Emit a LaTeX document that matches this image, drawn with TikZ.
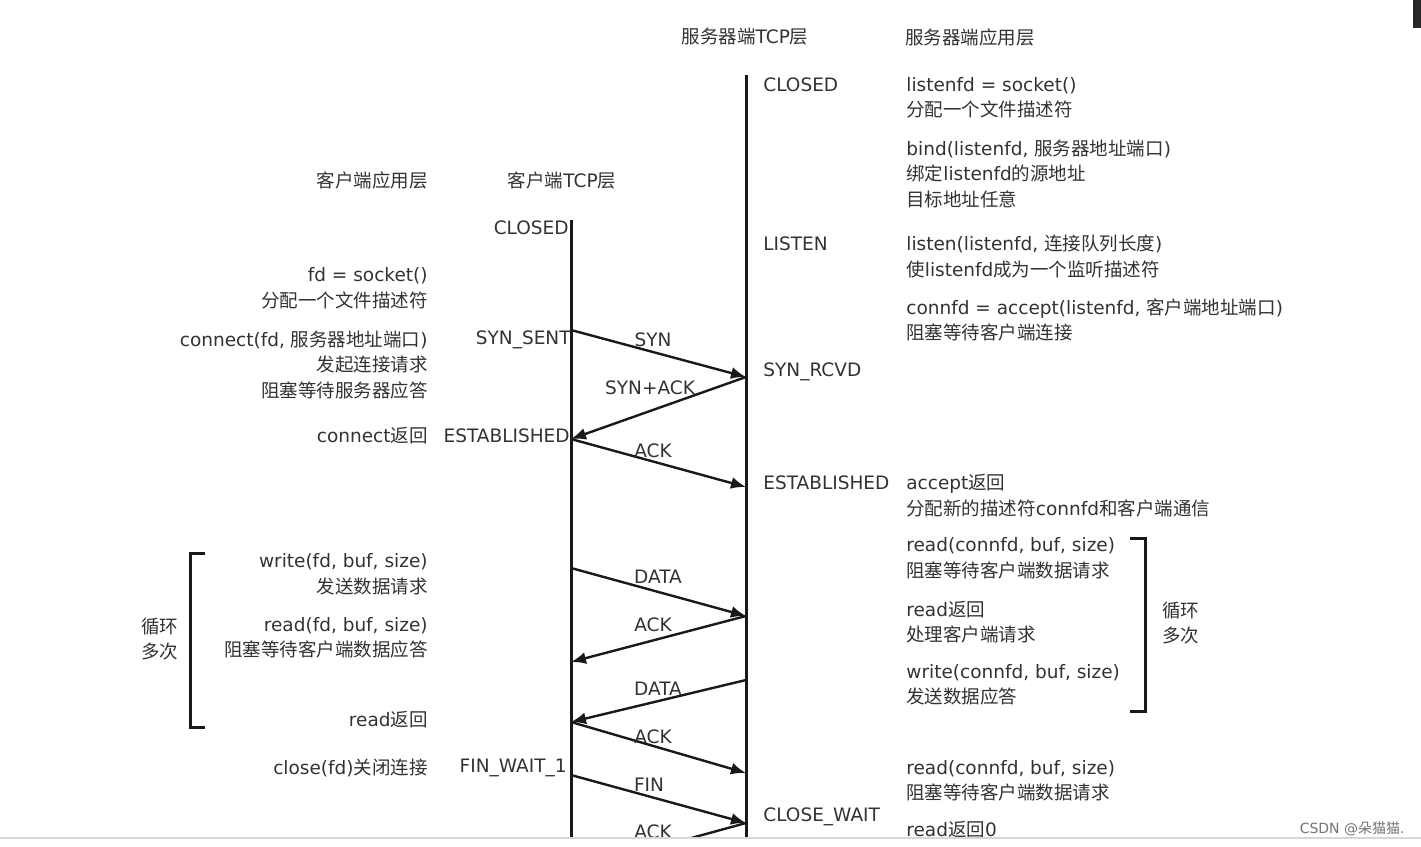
\documentclass[tikz,border=0pt]{standalone}
\usepackage{fontspec}
\setmainfont{DejaVu Sans}
\newfontfamily\cjk{Noto Sans CJK SC}
\newcommand{\zh}[1]{{\cjk #1}}
\usetikzlibrary{arrows.meta, positioning}
\definecolor{inkgray}{RGB}{50,50,50}
\definecolor{linegray}{RGB}{25,25,25}
\definecolor{barline}{RGB}{215,215,215}

\begin{document}
\begin{tikzpicture}[
        x=0.5pt, y=-0.5pt,
        font=\fontsize{9.25}{12.75}\selectfont,
        every node/.style={text=inkgray, inner sep=0pt},
        lifeline/.style={draw=linegray, line width=1.5pt},
        msg/.style={draw=linegray, line width=1.2pt, -{Latex[length=7.5pt, width=6pt]}},
        srvstate/.style={anchor=west},
        clistate/.style={anchor=east},
        srvapp/.style={anchor=west, align=left},
        cliapp/.style={anchor=east, align=right},
        msglabel/.style={anchor=center},
        loopbrace/.style={draw=linegray, line width=1.5pt}
    ]
        \useasboundingbox (0,0) rectangle (1421,847);
        \fill[black!85] (1413,0) rectangle (1421,28);

        \begin{scope}
        \clip (0,0) rectangle (1421,838);

        % headers
        \node (srvtcp) at (745,37) {\zh{服务器端}TCP\zh{层}};
        \node[anchor=west] (srvhead) at (905,37) {\zh{服务器端应用层}};
        \node[anchor=east] (clihead) at (428,180) {\zh{客户端应用层}};
        \node (clitcp) at (562,180) {\zh{客户端}TCP\zh{层}};

        % lifelines
        \coordinate (stop) at (746,75);
        \coordinate (sbot) at (746,847);
        \coordinate (ctop) at (571,220);
        \coordinate (cbot) at (571,847);
        \draw[lifeline] (stop) -- (sbot);
        \draw[lifeline] (ctop) -- (cbot);

        % server TCP states
        \node[srvstate] (sclosed) at (763,85) {CLOSED};
        \node[srvstate] (slisten) at (763,244) {LISTEN};
        \node[srvstate] (srcvd) at (763,372) {SYN\_RCVD};
        \node[srvstate] (sest) at (763,483) {ESTABLISHED};
        \node[srvstate] (swait) at (763,817) {CLOSE\_WAIT};

        % client TCP states
        \node[clistate] (cclosed) at (569,228) {CLOSED};
        \node[clistate] (csent) at (571,340) {SYN\_SENT};
        \node[clistate] (cest) at (570,436) {ESTABLISHED};
        \node[clistate] (cfin) at (567,768) {FIN\_WAIT\_1};

        % server application
        \node[srvapp] (ssock) at (906,97.5) {listenfd = socket()\\\zh{分配一个文件描述符}};
        \node[srvapp] (sbind) at (906,173.5) {bind(listenfd, \zh{服务器地址端口})\\\zh{绑定}listenfd\zh{的源地址}\\\zh{目标地址任意}};
        \node[srvapp] (slsn) at (906,256.5) {listen(listenfd, \zh{连接队列长度})\\\zh{使}listenfd\zh{成为一个监听描述符}};
        \node[srvapp] (sacc) at (906,320) {connfd = accept(listenfd, \zh{客户端地址端口})\\\zh{阻塞等待客户端连接}};
        \node[srvapp] (saccret) at (906,495.5) {accept\zh{返回}\\\zh{分配新的描述符}connfd\zh{和客户端通信}};
        \node[srvapp] (sread) at (906,558.5) {read(connfd, buf, size)\\\zh{阻塞等待客户端数据请求}};
        \node[srvapp] (sreadret) at (906,622) {read\zh{返回}\\\zh{处理客户端请求}};
        \node[srvapp] (swrite) at (906,685) {write(connfd, buf, size)\\\zh{发送数据应答}};
        \node[srvapp] (sread2) at (906,781) {read(connfd, buf, size)\\\zh{阻塞等待客户端数据请求}};
        \node[srvapp] (szero) at (906,830) {read\zh{返回}0};

        % client application
        \node[cliapp] (csock) at (428,288) {fd = socket()\\\zh{分配一个文件描述符}};
        \node[cliapp] (cconn) at (428,365) {connect(fd, \zh{服务器地址端口})\\\zh{发起连接请求}\\\zh{阻塞等待服务器应答}};
        \node[cliapp] (cconnret) at (428,436) {connect\zh{返回}};
        \node[cliapp] (cwrite) at (428,574) {write(fd, buf, size)\\\zh{发送数据请求}};
        \node[cliapp] (cread) at (428,638) {read(fd, buf, size)\\\zh{阻塞等待客户端数据应答}};
        \node[cliapp] (creadret) at (428,720) {read\zh{返回}};
        \node[cliapp] (cclose) at (428,768) {close(fd)\zh{关闭连接}};

        % loops
        \draw[loopbrace] (205,553) -- (190,553) -- (190,727) -- (205,727);
        \node[anchor=west, align=left] (cloop) at (141,639) {\zh{循环}\\\zh{多次}};
        \draw[loopbrace] (1130,538) -- (1145,538) -- (1145,711) -- (1130,711);
        \node[anchor=west, align=left] (sloop) at (1162,623) {\zh{循环}\\\zh{多次}};

        % segment end points
        \coordinate (c0) at (571,330);
        \coordinate (s1) at (746,377);
        \coordinate (c1) at (571,439);
        \coordinate (s2) at (746,487);
        \coordinate (c2) at (571,568);
        \coordinate (s3) at (746,616);
        \coordinate (c3) at (571,662);
        \coordinate (s4) at (746,680);
        \coordinate (c4) at (571,722);
        \coordinate (s5) at (746,773);
        \coordinate (c5) at (571,775);
        \coordinate (s6) at (746,823);
        \coordinate (c6) at (571,871);

        \draw[msg] (c0) -- (s1);
        \draw[msg] (s1) -- (c1);
        \draw[msg] (c1) -- (s2);
        \draw[msg] (c2) -- (s3);
        \draw[msg] (s3) -- (c3);
        \draw[msg] (s4) -- (c4);
        \draw[msg] (c4) -- (s5);
        \draw[msg] (c5) -- (s6);
        \draw[msg] (s6) -- (c6);

        \node[msglabel] (syn) at (653,340) {SYN};
        \node[msglabel] (synack) at (650,388) {SYN+ACK};
        \node[msglabel] (ack1) at (653,451) {ACK};
        \node[msglabel] (data1) at (658,577) {DATA};
        \node[msglabel] (ack2) at (653,625) {ACK};
        \node[msglabel] (data2) at (658,689) {DATA};
        \node[msglabel] (ack3) at (653,737) {ACK};
        \node[msglabel] (fin) at (649,785) {FIN};
        \node[msglabel] (ack4) at (653,832) {ACK};

        \node[anchor=east, text=black!55, font=\fontsize{7}{8}\selectfont] (mark) at (1405,829) {CSDN @\zh{朵猫猫}.};
        \end{scope}

        \draw[barline, line width=0.6pt] (0,838) -- (1421,838);
    \end{tikzpicture}
\end{document}
